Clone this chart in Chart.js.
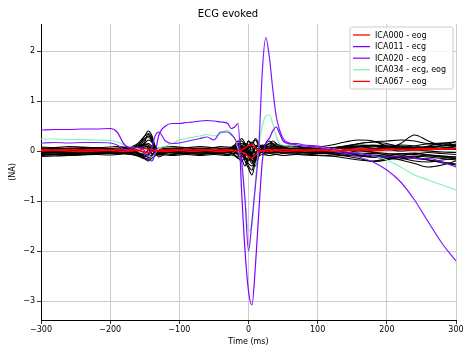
<!DOCTYPE html>
<html>
<head>
<meta charset="utf-8">
<script src="https://cdn.jsdelivr.net/npm/chart.js@4.4.1/dist/chart.umd.min.js"></script>
<style>
html,body{margin:0;padding:0;background:#fff;}
canvas{display:block;}
</style>
</head>
<body>
<canvas id="c" width="474" height="355"></canvas>
<script>
// ---- data ----
const times = [-300,-280,-260,-240,-220,-200,-190,-180,-170,-160,-150,-145,-140,-135,-130,-120,-110,-100,-90,-80,-70,-60,-50,-40,-30,-25,-20,-15,-10,-5,0,5,10,15,20,25,30,35,40,45,50,60,70,80,100,120,140,160,180,200,220,240,260,280,300];
const xTicks = [-300,-200,-100,0,100,200,300];
const yTicks = [-3,-2,-1,0,1,2];

const ica000 = [0.0,0.01,0.0,-0.01,0.0, 0.01,0.0,-0.01,0.0,0.01, -0.02,-0.03,-0.01,0.01,0.0, -0.01,0.0,0.01,0.0,-0.01, 0.0,0.01,0.0,-0.01,0.0, 0.01,0.0,0.01,0.02,0.06, 0.11,0.12,0.06,0.01,0.0, 0.0,-0.01,0.0,0.01,0.0, -0.01,0.0,0.01,0.0,0.01, 0.0,0.01,0.02,0.01,0.02, 0.03,0.02,0.03,0.04,0.05];
const ica011 = [0.42,0.43,0.43,0.44,0.44, 0.45,0.38,0.14,0.06,0.08, 0.0,-0.15,-0.2,-0.05,0.3, 0.5,0.55,0.55,0.57,0.58, 0.6,0.61,0.6,0.58,0.55, 0.45,0.48,0.55,-0.8,-2.0, -2.8,-3.08,-2.3,-1.2,-0.2, 0.15,0.25,0.4,0.48,0.35, 0.2,0.15,0.15,0.12,0.1, 0.05,-0.02,-0.05,-0.1,-0.12, -0.1,-0.15,-0.15,-0.22,-0.32];
const ica020 = [0.16,0.17,0.16,0.17,0.17, 0.16,0.12,0.03,0.0,0.02, -0.05,-0.1,0.05,0.3,0.38, 0.2,0.15,0.16,0.19,0.22, 0.25,0.28,0.22,0.38,0.38, 0.33,0.25,0.1,-0.2,-0.98, -2.0,-1.4,-0.7,0.1,1.6, 2.27,1.9,1.25,0.7,0.42, 0.25,0.15,0.12,0.1,0.08, 0.0,-0.05,-0.12,-0.22,-0.38, -0.62,-0.98,-1.42,-1.85,-2.2];
const ica034 = [0.24,0.24,0.23,0.23,0.22, 0.21,0.18,0.12,0.08,0.05, -0.05,-0.1,-0.12,-0.05,0.05, 0.1,0.15,0.22,0.25,0.28, 0.3,0.33,0.3,0.35,0.42, 0.35,0.25,0.05,-0.3,-1.0, -1.6,-1.5,-0.6,0.1,0.5, 0.7,0.72,0.55,0.3,0.15, 0.12,0.1,0.12,0.1,0.08, 0.05,0.0,-0.05,-0.1,-0.18, -0.32,-0.48,-0.58,-0.68,-0.78];
const ica067 = [0.03,0.02,0.03,0.02,0.03, 0.02,0.03,0.02,0.03,0.04, 0.05,0.04,0.03,0.02,0.03, 0.02,0.03,0.02,0.03,0.02, 0.03,0.02,0.03,0.02,0.03, 0.02,0.01,0.0,-0.02,-0.06, -0.11,-0.14,-0.08,-0.02,0.01, 0.02,0.03,0.02,0.03,0.02, 0.03,0.02,0.03,0.02,0.03, 0.04,0.03,0.04,0.03,0.04, 0.03,0.04,0.05,0.04,0.05];

const k01 = [-0.11,-0.1,-0.09,-0.07,-0.05,-0.03,-0.02,0.0,0.02,0.1,0.3,0.4,0.32,0.1,-0.05,-0.02,0.0,0.01,0.0,-0.01,0.0,0.01,0.0,0.02,0.03,0.05,0.1,0.15,0.05,-0.2,-0.35,-0.48,-0.2,0.05,0.1,0.12,0.15,0.2,0.15,0.1,0.08,0.05,0.04,0.05,0.08,0.12,0.18,0.22,0.2,0.1,0.05,0.02,0.0,-0.02,-0.03];
const k02 = [-0.06,-0.06,-0.05,-0.04,-0.03,-0.02,-0.01,0.0,0.02,0.08,0.22,0.3,0.25,0.08,-0.03,-0.01,0.01,0.0,0.02,0.0,-0.01,0.0,0.02,0.01,0.02,0.04,0.08,0.0,-0.15,-0.3,-0.1,0.15,0.22,0.1,0.05,0.08,0.1,0.12,0.1,0.08,0.06,0.04,0.03,0.02,0.02,0.04,0.06,0.08,0.06,0.05,0.15,0.32,0.2,0.12,0.19];
const k03 = [0.02,0.01,0.02,0.01,0.0,0.01,0.0,0.01,0.02,0.06,0.15,0.22,0.18,0.05,-0.08,-0.03,0.0,0.02,0.01,0.0,0.02,0.01,0.0,0.01,0.0,0.02,0.05,0.12,0.2,0.1,-0.1,-0.25,-0.1,0.05,0.1,0.05,0.02,0.05,0.08,0.06,0.05,0.04,0.02,0.0,0.0,-0.02,-0.05,-0.08,-0.1,-0.12,-0.18,-0.25,-0.32,-0.28,-0.2];
const k04 = [0.0,0.01,0.0,-0.01,0.0,0.0,-0.01,0.0,-0.02,-0.06,-0.15,-0.2,-0.15,-0.05,0.02,0.01,0.0,-0.01,0.0,0.01,0.0,-0.01,0.0,0.0,-0.02,-0.04,-0.08,-0.15,-0.1,0.05,0.2,0.1,0.25,0.15,0.05,0.0,0.02,0.05,0.03,0.02,0.0,0.01,0.0,-0.02,-0.03,-0.06,-0.1,-0.15,-0.21,-0.18,-0.1,-0.05,-0.08,-0.1,-0.12];
const k05 = [-0.03,-0.02,-0.03,-0.02,-0.01,-0.02,-0.01,0.0,0.01,0.05,0.12,0.15,0.1,0.02,-0.02,0.0,-0.01,0.0,0.01,0.0,-0.01,0.0,0.01,0.0,0.01,0.02,0.0,-0.05,-0.1,-0.15,-0.2,-0.1,0.05,0.12,0.08,0.1,0.14,0.15,0.12,0.12,0.1,0.12,0.1,0.08,0.05,0.03,0.05,0.08,0.1,0.12,0.1,0.05,0.02,0.06,0.1];
const k06 = [0.04,0.03,0.04,0.03,0.02,0.03,0.02,0.01,0.0,-0.03,-0.08,-0.12,-0.1,-0.03,0.02,0.03,0.02,0.03,0.04,0.03,0.02,0.03,0.04,0.03,0.04,0.05,0.08,0.1,0.15,0.12,0.0,-0.12,-0.05,0.05,0.03,0.02,0.05,0.06,0.04,0.03,0.02,0.03,0.02,0.01,0.0,-0.02,-0.04,-0.05,-0.08,-0.1,-0.12,-0.15,-0.18,-0.24,-0.28];
const k07 = [-0.04,-0.03,-0.05,-0.04,-0.03,-0.04,-0.03,-0.04,-0.02,0.02,0.08,0.1,0.05,-0.05,-0.08,-0.04,-0.03,-0.05,-0.04,-0.03,-0.04,-0.05,-0.03,-0.04,-0.03,-0.02,0.0,0.05,0.08,0.02,-0.08,-0.05,0.06,0.02,-0.03,-0.04,-0.02,-0.03,-0.04,-0.03,-0.02,-0.03,-0.02,-0.03,-0.04,-0.03,-0.02,-0.04,-0.05,-0.06,-0.05,-0.07,-0.1,-0.12,-0.14];
const k08 = [0.06,0.05,0.06,0.05,0.04,0.05,0.04,0.05,0.04,0.06,0.1,0.08,0.02,0.0,0.03,0.05,0.06,0.05,0.04,0.05,0.06,0.05,0.04,0.05,0.06,0.05,0.03,-0.02,-0.06,0.05,0.12,0.08,-0.02,0.0,0.04,0.06,0.05,0.04,0.05,0.06,0.05,0.04,0.05,0.04,0.03,0.04,0.05,0.04,0.05,0.06,0.05,0.06,0.07,0.06,0.08];
const k09 = [-0.01,0.0,-0.02,-0.01,0.0,-0.01,0.0,-0.01,0.0,-0.04,-0.1,-0.08,0.0,0.05,0.02,0.0,-0.01,0.0,-0.02,-0.01,0.0,-0.01,-0.02,0.0,-0.01,0.0,-0.03,-0.06,0.0,0.1,0.05,-0.08,-0.12,-0.03,0.0,0.01,0.0,-0.01,0.0,0.01,0.0,-0.01,0.0,0.01,0.02,0.03,0.05,0.02,-0.02,-0.05,-0.08,-0.06,-0.03,-0.05,-0.07];
const k10 = [0.02,0.03,0.02,0.03,0.02,0.01,0.02,0.03,0.05,0.08,0.12,0.05,-0.05,-0.08,-0.02,0.02,0.03,0.02,0.01,0.02,0.03,0.02,0.01,0.02,0.03,0.04,0.06,0.1,0.05,-0.1,-0.18,-0.05,0.1,0.12,0.06,0.03,0.02,0.03,0.04,0.03,0.02,0.03,0.02,0.03,0.04,0.06,0.1,0.12,0.1,0.04,0.0,0.02,0.05,0.04,0.03];
const k11 = [-0.07,-0.06,-0.07,-0.06,-0.05,-0.04,-0.05,-0.04,-0.03,0.0,0.06,0.04,-0.04,-0.1,-0.05,-0.03,-0.04,-0.03,-0.02,-0.03,-0.04,-0.03,-0.02,-0.03,-0.02,-0.03,-0.05,0.0,0.1,0.15,0.0,-0.15,-0.08,0.02,-0.02,-0.03,-0.02,-0.01,-0.02,-0.03,-0.02,-0.01,-0.02,-0.03,-0.04,-0.06,-0.08,-0.1,-0.12,-0.1,-0.06,-0.04,-0.08,-0.12,-0.16];
const k12 = [0.01,0.02,0.03,0.02,0.01,0.02,0.03,0.02,0.0,-0.05,-0.12,-0.1,0.0,0.06,0.03,0.01,0.02,0.01,0.02,0.03,0.02,0.01,0.02,0.03,0.02,0.01,-0.02,-0.08,-0.12,-0.05,0.08,0.18,0.1,0.0,0.02,0.04,0.03,0.02,0.03,0.04,0.03,0.02,0.01,0.02,0.03,0.04,0.03,0.02,0.04,0.08,0.12,0.1,0.06,0.1,0.14];
const k13 = [-0.02,-0.03,-0.02,-0.03,-0.04,-0.03,-0.02,-0.03,-0.05,-0.08,-0.05,0.02,0.08,0.04,-0.02,-0.03,-0.02,-0.03,-0.04,-0.03,-0.02,-0.03,-0.04,-0.03,-0.02,0.0,0.04,0.06,0.0,-0.12,-0.25,-0.3,-0.15,0.0,0.03,0.0,-0.02,-0.01,0.0,-0.01,-0.02,-0.01,-0.02,-0.03,-0.02,-0.04,-0.06,-0.08,-0.12,-0.15,-0.16,-0.12,-0.08,-0.1,-0.12];
const k14 = [0.03,0.04,0.03,0.04,0.05,0.04,0.03,0.04,0.06,0.12,0.25,0.28,0.2,0.05,-0.02,0.02,0.03,0.04,0.03,0.02,0.03,0.04,0.03,0.02,0.04,0.06,0.1,0.05,-0.05,0.0,0.2,0.12,-0.05,-0.02,0.05,0.1,0.15,0.12,0.08,0.06,0.04,0.05,0.06,0.05,0.04,0.05,0.08,0.15,0.18,0.15,0.08,0.05,0.1,0.15,0.12];
const k15 = [-0.05,-0.04,-0.05,-0.06,-0.05,-0.04,-0.03,-0.02,-0.04,-0.08,-0.15,-0.18,-0.1,0.0,0.02,-0.02,-0.04,-0.05,-0.06,-0.05,-0.04,-0.05,-0.06,-0.05,-0.04,-0.05,-0.08,-0.12,-0.05,0.08,0.1,-0.05,-0.2,-0.08,0.0,-0.02,-0.03,-0.04,-0.03,-0.02,-0.03,-0.04,-0.05,-0.06,-0.08,-0.1,-0.14,-0.18,-0.2,-0.16,-0.1,-0.12,-0.18,-0.22,-0.26];
const k16 = [0.0,-0.01,0.01,0.0,-0.01,0.0,0.01,0.0,0.02,0.05,0.18,0.35,0.28,0.05,-0.12,-0.05,0.0,0.01,0.0,-0.01,0.0,0.01,0.0,-0.01,0.0,0.02,0.06,0.12,0.25,0.15,-0.05,-0.2,-0.3,-0.1,0.05,0.15,0.2,0.15,0.1,0.05,0.02,0.01,0.0,0.01,0.02,0.05,0.1,0.15,0.18,0.2,0.22,0.2,0.15,0.16,0.18];
const k17 = [0.08,0.07,0.09,0.08,0.07,0.08,0.09,0.08,0.07,0.1,0.14,0.12,0.06,0.04,0.06,0.08,0.09,0.08,0.07,0.08,0.09,0.08,0.07,0.09,0.08,0.07,0.05,0.02,0.08,0.15,0.1,0.02,0.06,0.1,0.08,0.07,0.08,0.09,0.08,0.07,0.08,0.09,0.08,0.07,0.06,0.07,0.08,0.09,0.1,0.08,0.06,0.07,0.09,0.1,0.11];
const k18 = [-0.09,-0.08,-0.09,-0.08,-0.07,-0.08,-0.07,-0.06,-0.07,-0.1,-0.16,-0.14,-0.08,-0.05,-0.07,-0.08,-0.09,-0.08,-0.07,-0.08,-0.09,-0.08,-0.07,-0.08,-0.09,-0.08,-0.1,-0.14,-0.2,-0.12,-0.02,-0.1,-0.16,-0.1,-0.07,-0.08,-0.09,-0.08,-0.07,-0.08,-0.09,-0.08,-0.07,-0.08,-0.09,-0.1,-0.09,-0.1,-0.12,-0.14,-0.12,-0.1,-0.12,-0.15,-0.18];
const k19 = [0.05,0.06,0.05,0.07,0.06,0.05,0.06,0.07,0.08,0.15,0.3,0.33,0.22,0.02,-0.06,0.03,0.05,0.06,0.07,0.06,0.05,0.06,0.07,0.06,0.05,0.08,0.12,0.2,0.1,-0.1,-0.3,-0.38,-0.1,0.08,0.12,0.1,0.08,0.06,0.05,0.06,0.07,0.06,0.05,0.04,0.05,0.06,0.08,0.1,0.12,0.1,0.08,0.1,0.14,0.12,0.1];
const k20 = [-0.08,-0.07,-0.06,-0.07,-0.06,-0.05,-0.06,-0.05,-0.06,-0.1,-0.12,-0.06,0.02,0.0,-0.05,-0.06,-0.07,-0.06,-0.05,-0.06,-0.07,-0.06,-0.05,-0.06,-0.07,-0.06,-0.04,0.02,0.1,0.05,-0.1,-0.2,-0.05,0.02,-0.04,-0.06,-0.05,-0.06,-0.07,-0.06,-0.05,-0.06,-0.07,-0.06,-0.05,-0.04,-0.02,0.0,-0.03,-0.08,-0.14,-0.2,-0.22,-0.18,-0.15];

const blackSeries = [k01,k02,k03,k04,k05,k06,k07,k08,k09,k10,k11,k12,k13,k14,k15,k16,k17,k18,k19,k20];
const colored = [
  {label:'ICA000 - eog', values: ica000, color:'#ff0000', width: 1.5},
  {label:'ICA011 - ecg', values: ica011, color:'#8000ff', width: 1.2},
  {label:'ICA020 - ecg', values: ica020, color:'#7f1aff', width: 1.2},
  {label:'ICA034 - ecg, eog', values: ica034, color:'#80f5b4', width: 1.2},
  {label:'ICA067 - eog', values: ica067, color:'#ff0000', width: 1.5}
];

const FONT = "'DejaVu Sans', 'Liberation Sans', sans-serif";
const toPts = v => times.map((t,i) => ({x:t, y:v[i]}));

const datasets = [];
colored.forEach(c => datasets.push({
  label: c.label, data: toPts(c.values), borderColor: c.color, backgroundColor: c.color,
  borderWidth: c.width, pointRadius: 0, cubicInterpolationMode: 'monotone', fill: false
}));
blackSeries.forEach(v => datasets.push({
  label: '', data: toPts(v), borderColor: '#000000', borderWidth: 1.1,
  pointRadius: 0, cubicInterpolationMode: 'monotone', fill: false
}));

const minus = s => String(s).replace('-', '\u2212');

const boxLegend = {
  id: 'boxLegend',
  afterDraw(chart) {
    const ctx = chart.ctx;
    const items = chart.data.datasets.filter(d => d.label);
    const ca = chart.chartArea;
    const rowH = 11.6;
    const w = 103, h = items.length * rowH + 4;
    const x0 = ca.right - 3 - w, y0 = ca.top + 3;
    ctx.save();
    ctx.beginPath();
    const r = 2;
    ctx.moveTo(x0 + r, y0);
    ctx.lineTo(x0 + w - r, y0); ctx.quadraticCurveTo(x0 + w, y0, x0 + w, y0 + r);
    ctx.lineTo(x0 + w, y0 + h - r); ctx.quadraticCurveTo(x0 + w, y0 + h, x0 + w - r, y0 + h);
    ctx.lineTo(x0 + r, y0 + h); ctx.quadraticCurveTo(x0, y0 + h, x0, y0 + h - r);
    ctx.lineTo(x0, y0 + r); ctx.quadraticCurveTo(x0, y0, x0 + r, y0);
    ctx.closePath();
    ctx.fillStyle = 'rgba(255,255,255,0.8)';
    ctx.fill();
    ctx.strokeStyle = '#cccccc';
    ctx.lineWidth = 1;
    ctx.stroke();
    ctx.font = '8px ' + FONT;
    ctx.textBaseline = 'middle';
    ctx.textAlign = 'left';
    items.forEach((d, i) => {
      const y = y0 + 8 + i * rowH;
      ctx.beginPath();
      ctx.moveTo(x0 + 3, y); ctx.lineTo(x0 + 20, y);
      ctx.strokeStyle = d.borderColor; ctx.lineWidth = 1.3; ctx.stroke();
      ctx.fillStyle = '#000';
      ctx.fillText(d.label, x0 + 25, y + 0.5);
    });
    ctx.restore();
  }
};

new Chart(document.getElementById('c'), {
  type: 'line',
  data: { datasets },
  options: {
    responsive: false,
    animation: false,
    events: [],
    layout: { padding: { left: 0, right: 18, top: 0, bottom: 0 } },
    plugins: {
      legend: { display: false },
      tooltip: { enabled: false },
      title: { display: true, text: 'ECG evoked', color: '#000',
               font: { family: FONT, size: 10, weight: 'normal' },
               padding: { top: 8, bottom: 4 } }
    },
    scales: {
      x: {
        type: 'linear', min: -300, max: 300,
        afterBuildTicks: s => { s.ticks = xTicks.map(v => ({value: v})); },
        afterFit: s => { s.height = 35; },
        ticks: { color: '#000', font: { family: FONT, size: 8 }, padding: 1, maxRotation: 0,
                 callback: v => minus(v) },
        grid: { color: '#cccccc', lineWidth: 1, tickLength: 4, tickColor: '#000', tickWidth: 0.8 },
        border: { display: true, color: '#000', width: 1 },
        title: { display: true, text: 'Time (ms)', color: '#000', font: { family: FONT, size: 8 },
                 padding: { top: 0, bottom: 8 } }
      },
      y: {
        type: 'linear', min: -3.38, max: 2.54,
        afterBuildTicks: s => { s.ticks = yTicks.map(v => ({value: v})); },
        afterFit: s => { s.width = 41; },
        ticks: { color: '#000', font: { family: FONT, size: 8 }, padding: 2,
                 callback: v => minus(v) },
        grid: { color: '#cccccc', lineWidth: 1, tickLength: 4, tickColor: '#000', tickWidth: 0.8 },
        border: { display: true, color: '#000', width: 1 },
        title: { display: true, text: '(NA)', color: '#000', font: { family: FONT, size: 8 },
                 padding: { top: 8, bottom: 0 } }
      }
    }
  },
  plugins: [boxLegend]
});
</script>
</body>
</html>
